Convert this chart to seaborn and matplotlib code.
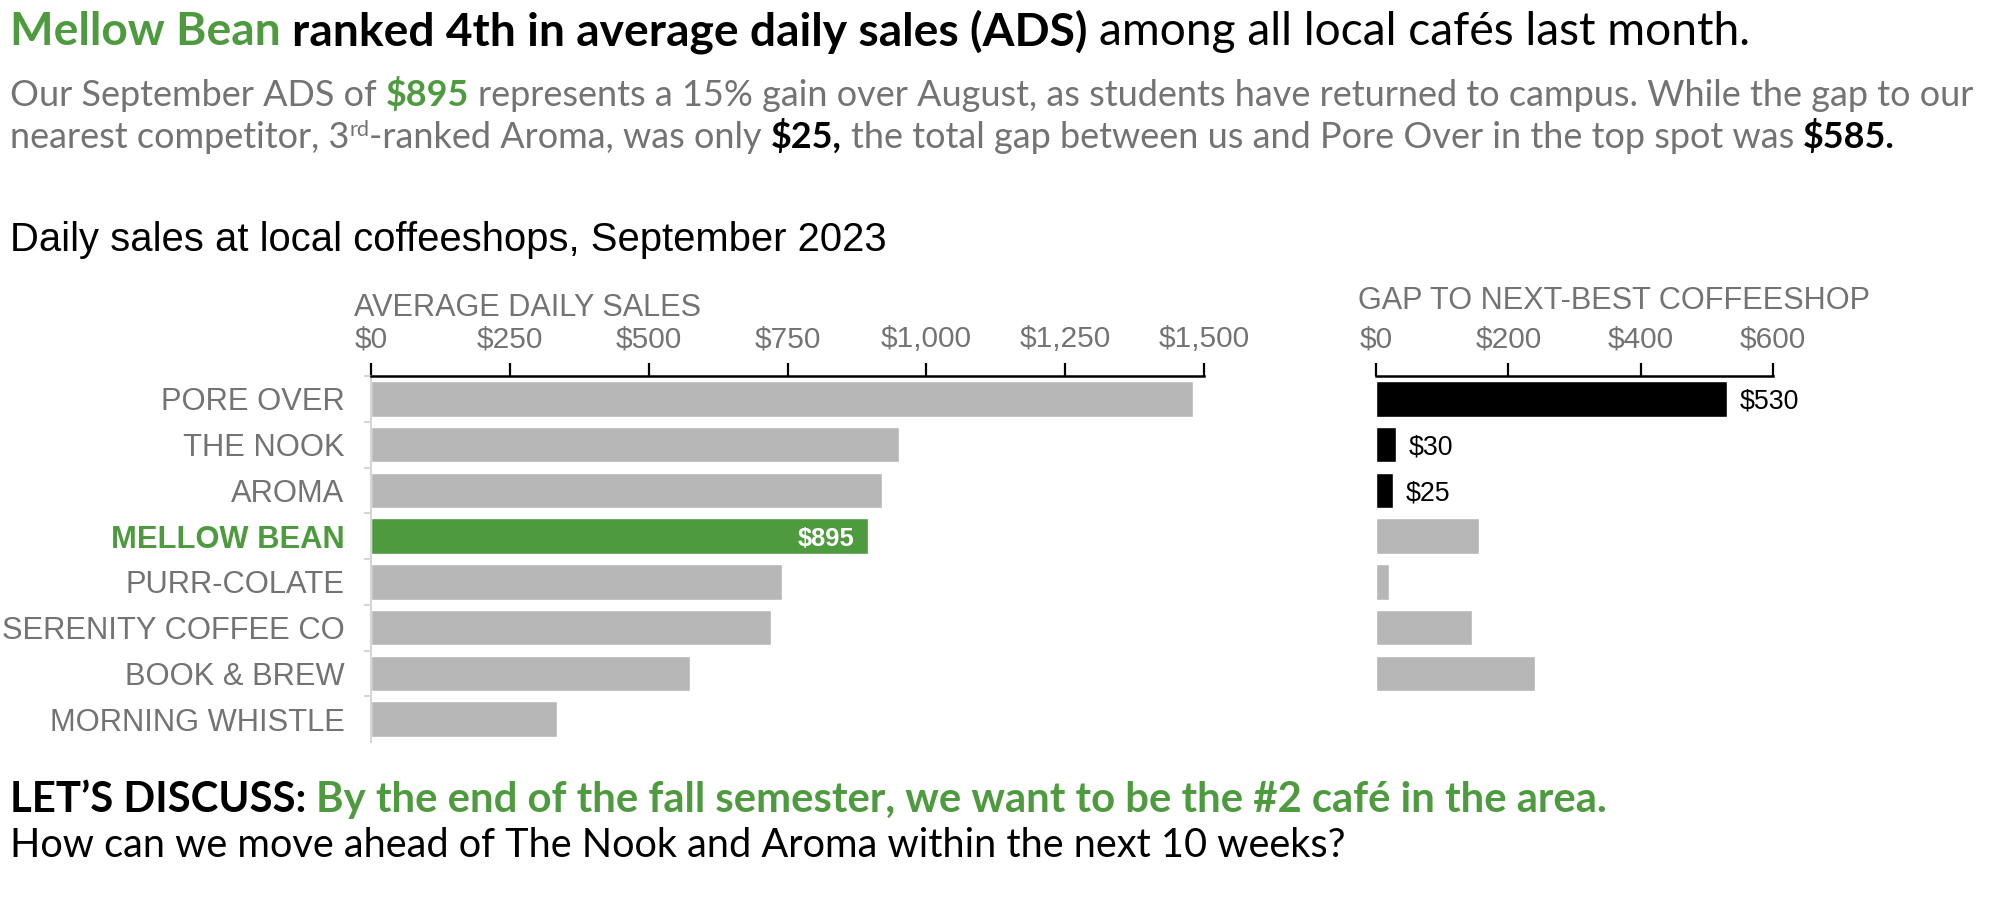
import matplotlib
matplotlib.use("Agg")
import matplotlib.pyplot as plt
import seaborn as sns
import pandas as pd
import numpy as np

shops = ["PORE OVER", "THE NOOK", "AROMA", "MELLOW BEAN", "PURR-COLATE",
         "SERENITY COFFEE CO", "BOOK & BREW", "MORNING WHISTLE"]
ads = [1480, 950, 920, 895, 740, 720, 575, 335]
gap = [530, 30, 25, 155, 20, 145, 240, np.nan]
ads_ticks = [0, 250, 500, 750, 1000, 1250, 1500]
gap_ticks = [0, 200, 400, 600]
us = "MELLOW BEAN"
leaders = ["PORE OVER", "THE NOOK", "AROMA"]

GREEN = "#4e9a3f"
BAR_GREY = "#b7b7b7"
TXT_GREY = "#737373"
W, H = 2012, 902

sns.set_theme(style="white")
plt.rcParams["font.family"] = ["Liberation Sans", "DejaVu Sans"]

fig = plt.figure(figsize=(W / 100, H / 100), dpi=100)


def px_axes(x0, y0, x1, y1):
    return fig.add_axes([x0 / W, 1 - y1 / H, (x1 - x0) / W, (y1 - y0) / H])


def rich_line(x, y, parts, size, family="Lato"):
    # parts: (text, color, weight[, scale, rise]) placed one after another
    r = fig.canvas.get_renderer()

    def width(s, sz, wt):
        t = fig.text(0, 0, s, fontsize=sz, fontweight=wt, family=family)
        w = t.get_window_extent(r).width
        t.remove()
        return w

    for p in parts:
        text, color, weight = p[:3]
        scale = p[3] if len(p) > 3 else 1.0
        rise = p[4] if len(p) > 4 else 0
        sz = size * scale
        sp = width("x x", sz, weight) - width("xx", sz, weight)
        lead = len(text) - len(text.lstrip(" "))
        trail = len(text) - len(text.rstrip(" "))
        x += lead * sp
        core = text.strip(" ")
        if core:
            fig.text(x / W, 1 - (y - rise) / H, core, fontsize=sz, fontweight=weight,
                     color=color, family=family, ha="left", va="baseline")
            x += width(core, sz, weight)
        x += trail * sp
    return x


df = pd.DataFrame({"shop": shops, "ads": ads, "gap": gap})

# left panel: average daily sales
ax1 = px_axes(371, 376, 1204, 742)
sns.barplot(data=df, x="ads", y="shop", hue="shop", order=shops, legend=False,
            palette={s: (GREEN if s == us else BAR_GREY) for s in shops},
            width=0.78, saturation=1, ax=ax1)
ax1.set_xlim(0, 1500)
ax1.set_xticks(ads_ticks)
ax1.set_xticklabels([f"${v:,}" for v in ads_ticks])

# right panel: gap to the next-best shop
dg = df.dropna(subset=["gap"])
ax2 = px_axes(1376, 376, 1773, 742)
sns.barplot(data=dg, x="gap", y="shop", hue="shop", order=shops, legend=False,
            palette={s: ("black" if s in leaders else BAR_GREY) for s in dg["shop"]},
            width=0.78, saturation=1, ax=ax2)
ax2.set_xlim(0, 600)
ax2.set_xticks(gap_ticks)
ax2.set_xticklabels([f"${v:,}" for v in gap_ticks])

for ax in (ax1, ax2):
    ax.set_ylim(len(shops) - 0.5, -0.5)
    ax.set_xlabel("")
    ax.set_ylabel("")
    ax.xaxis.tick_top()
    ax.tick_params(axis="x", top=True, bottom=False, direction="out", length=9.5,
                   width=1.6, color="black", labelsize=21.5, labelcolor=TXT_GREY, pad=7)
    ax.spines["top"].set_color("black")
    ax.spines["top"].set_linewidth(1.8)
    ax.spines["right"].set_visible(False)
    ax.spines["bottom"].set_visible(False)

ax1.spines["left"].set_color("#d6d6d6")
ax1.spines["left"].set_linewidth(1.5)
ax1.set_yticks(np.arange(-0.5, len(shops) - 1), minor=True)
ax1.tick_params(axis="y", which="minor", left=True, length=5, width=1.5, color="#d6d6d6")
ax1.tick_params(axis="y", which="major", length=0, pad=19, labelsize=22.2, labelcolor=TXT_GREY)
for lab in ax1.get_yticklabels():
    if lab.get_text() == us:
        lab.set_color(GREEN)
        lab.set_fontweight("bold")

ax2.spines["left"].set_visible(False)
ax2.set_yticks([])

i = shops.index(us)
ax1.annotate(f"${ads[i]}", (ads[i], i), xytext=(-10, 0), textcoords="offset points",
             ha="right", va="center_baseline", color="white", fontweight="bold", fontsize=18.4)
for s in leaders:
    j = shops.index(s)
    ax2.annotate(f"${gap[j]:.0f}", (gap[j], j), xytext=(9.5, 0), textcoords="offset points",
                 ha="left", va="center_baseline", color="black", fontsize=19.3)

fig.text(354 / W, 1 - 316 / H, "AVERAGE DAILY SALES", fontsize=22.1, color=TXT_GREY,
         ha="left", va="baseline")
fig.text(1358 / W, 1 - 309 / H, "GAP TO NEXT-BEST COFFEESHOP", fontsize=22.1, color=TXT_GREY,
         ha="left", va="baseline")
fig.text(10 / W, 1 - 251 / H, "Daily sales at local coffeeshops, September 2023",
         fontsize=28.8, color="black", ha="left", va="baseline")

# headline and narrative
rich_line(10, 45, [("Mellow Bean ", GREEN, "bold"),
                   ("ranked 4th in average daily sales (ADS) ", "black", "bold"),
                   ("among all local cafés last month.", "black", "normal")], 33.2)
rich_line(10, 106, [("Our September ADS of ", TXT_GREY, "normal"),
                    ("$895 ", GREEN, "bold"),
                    ("represents a 15% gain over August, as students have returned to campus. "
                     "While the gap to our", TXT_GREY, "normal")], 25.9)
rich_line(10, 148, [("nearest competitor, 3", TXT_GREY, "normal"),
                    ("rd", TXT_GREY, "normal", 0.6, 12),
                    ("-ranked Aroma, was only ", TXT_GREY, "normal"),
                    ("$25, ", "black", "bold"),
                    ("the total gap between us and Pore Over in the top spot was ", TXT_GREY, "normal"),
                    ("$585.", "black", "bold")], 25.9)
rich_line(10, 812, [("LET\u2019S DISCUSS: ", "black", "bold"),
                    ("By the end of the fall semester, we want to be the #2 café in the area.",
                     GREEN, "bold")], 30.2)
rich_line(10, 857, [("How can we move ahead of The Nook and Aroma within the next 10 weeks?",
                     "black", "normal")], 28.6)

fig.savefig("out.png", dpi=100)
